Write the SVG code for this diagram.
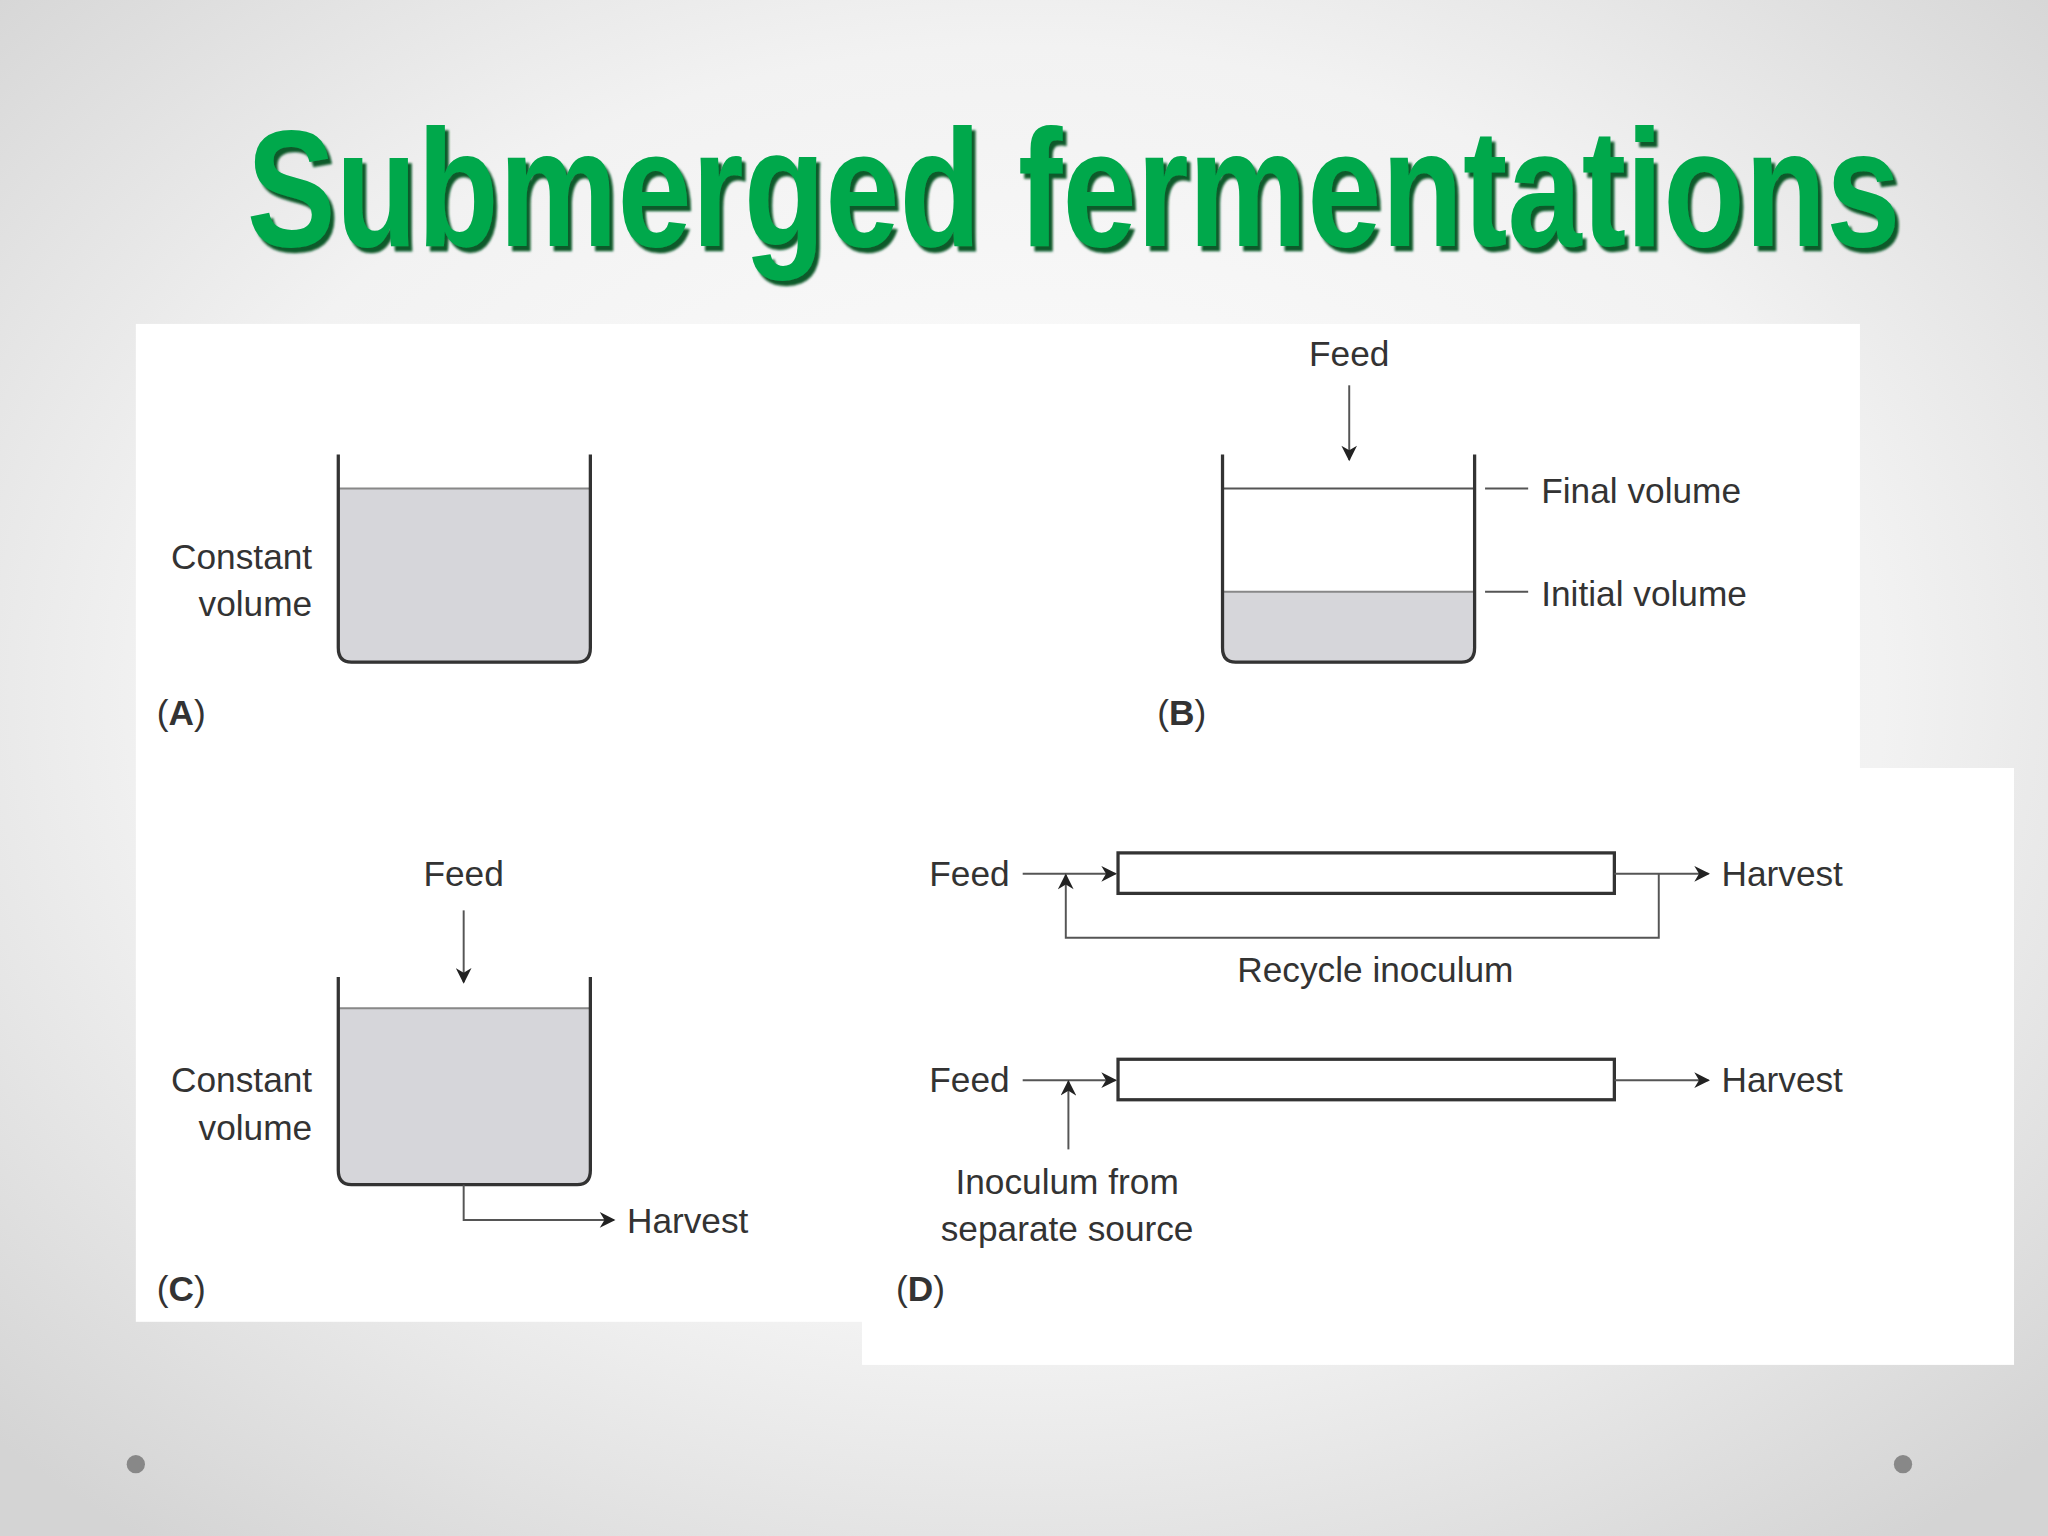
<svg xmlns="http://www.w3.org/2000/svg" width="2048" height="1536" viewBox="0 0 2048 1536">
<defs>
<radialGradient id="bg" cx="50%" cy="45%" r="70%"><stop offset="0" stop-color="#ffffff"/><stop offset="0.6" stop-color="#f2f2f2"/><stop offset="1" stop-color="#d4d4d4"/></radialGradient>
<filter id="sh" filterUnits="userSpaceOnUse" x="100" y="40" width="1460" height="200"><feDropShadow dx="3" dy="4" stdDeviation="1" flood-color="#0b5a2a" flood-opacity="1"/></filter>
<marker id="ar2" viewBox="0 0 10 10" refX="9" refY="5" markerWidth="16" markerHeight="12" markerUnits="userSpaceOnUse" orient="auto"><path d="M0,0 L10,5 L0,10 L3,5 Z" fill="#222"/></marker>
</defs>
<style>
.t{font-family:"Liberation Sans",Arial,sans-serif;font-size:27px;fill:#333}
.tank{fill:none;stroke:#333;stroke-width:2.5}
.liq{fill:#d6d6da;stroke:#888;stroke-width:1.5}
.ln{fill:none;stroke:#555;stroke-width:1.5}
.tube{fill:#fff;stroke:#333;stroke-width:2.5}
</style>
<rect width="2048" height="1536" fill="url(#bg)"/>
<g transform="scale(1.30612)">
<rect x="104" y="248" width="1320" height="764" fill="#fff"/>
<rect x="660" y="588" width="882" height="457" fill="#fff"/>
<g id="title">
<text x="822" y="188" text-anchor="middle" font-family="Liberation Sans,Arial,sans-serif" font-weight="bold" font-size="128" fill="#00a84c" textLength="1266" lengthAdjust="spacingAndGlyphs" filter="url(#sh)">Submerged fermentations</text>
</g>
<g id="A">
<path class="liq" d="M259,374 H452 V496 Q452,507 442,507 H269 Q259,507 259,496 Z"/>
<path class="tank" d="M259,348 V496 Q259,507 269,507 H442 Q452,507 452,496 V348"/>
<text class="t" x="239" y="436" text-anchor="end">Constant</text>
<text class="t" x="239" y="472" text-anchor="end">volume</text>
<text class="t" x="120" y="555">(<tspan font-weight="bold">A</tspan>)</text>
</g>
<g id="B">
<path class="liq" d="M936,453 H1129 V496 Q1129,507 1119,507 H946 Q936,507 936,496 Z"/>
<line class="ln" x1="936" y1="374" x2="1129" y2="374"/>
<path class="tank" d="M936,348 V496 Q936,507 946,507 H1119 Q1129,507 1129,496 V348"/>
<text class="t" x="1033" y="280" text-anchor="middle">Feed</text>
<line class="ln" x1="1137" y1="374" x2="1170" y2="374"/>
<line class="ln" x1="1137" y1="453" x2="1170" y2="453"/>
<text class="t" x="1180" y="385">Final volume</text>
<text class="t" x="1180" y="464">Initial volume</text>
<text class="t" x="886" y="555">(<tspan font-weight="bold">B</tspan>)</text>
</g>
<g id="C">
<path class="liq" d="M259,772 H452 V896 Q452,907 442,907 H269 Q259,907 259,896 Z"/>
<path class="tank" d="M259,748 V896 Q259,907 269,907 H442 Q452,907 452,896 V748"/>
<text class="t" x="355" y="678" text-anchor="middle">Feed</text>
<text class="t" x="239" y="836" text-anchor="end">Constant</text>
<text class="t" x="239" y="873" text-anchor="end">volume</text>
<text class="t" x="480" y="944">Harvest</text>
<text class="t" x="120" y="996">(<tspan font-weight="bold">C</tspan>)</text>
</g>
<g id="D">
<rect class="tube" x="856" y="653" width="380" height="31"/>
<rect class="tube" x="856" y="811" width="380" height="31"/>
<text class="t" x="773" y="678" text-anchor="end">Feed</text>
<text class="t" x="1318" y="678">Harvest</text>
<text class="t" x="1053" y="752" text-anchor="middle">Recycle inoculum</text>
<text class="t" x="773" y="836" text-anchor="end">Feed</text>
<text class="t" x="1318" y="836">Harvest</text>
<text class="t" x="817" y="914" text-anchor="middle">Inoculum from</text>
<text class="t" x="817" y="950" text-anchor="middle">separate source</text>
<text class="t" x="686" y="996">(<tspan font-weight="bold">D</tspan>)</text>
</g>
<g id="connectors">
<line class="ln" x1="1033" y1="295" x2="1033" y2="352" marker-end="url(#ar2)"/>
<line class="ln" x1="355" y1="697" x2="355" y2="752" marker-end="url(#ar2)"/>
<polyline class="ln" points="355,907 355,934 470,934" marker-end="url(#ar2)"/>
<line class="ln" x1="783" y1="669" x2="854" y2="669" marker-end="url(#ar2)"/>
<line class="ln" x1="1236" y1="669" x2="1308" y2="669" marker-end="url(#ar2)"/>
<polyline class="ln" points="1270,669 1270,718 816,718 816,670" marker-end="url(#ar2)"/>
<line class="ln" x1="783" y1="827" x2="854" y2="827" marker-end="url(#ar2)"/>
<line class="ln" x1="1236" y1="827" x2="1308" y2="827" marker-end="url(#ar2)"/>
<line class="ln" x1="818" y1="880" x2="818" y2="828" marker-end="url(#ar2)"/>
</g>
<circle cx="104" cy="1121" r="7" fill="#888"/>
<circle cx="1457" cy="1121" r="7" fill="#888"/>
</g>
</svg>
